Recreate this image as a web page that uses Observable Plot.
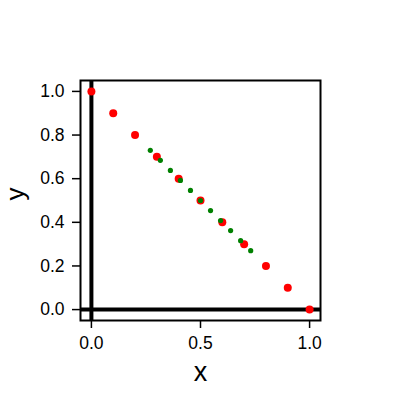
<!DOCTYPE html>
<html>
<head>
<meta charset="utf-8">
<script src="https://cdn.jsdelivr.net/npm/d3@7"></script>
<script src="https://cdn.jsdelivr.net/npm/@observablehq/plot@0.6"></script>
<style>
  html, body { margin: 0; padding: 0; background: white; }
</style>
</head>
<body>
<div id="chart"></div>
<script>
const redX = [0.0, 0.1, 0.2, 0.3, 0.4, 0.5, 0.6, 0.7, 0.8, 0.9, 1.0];
const redY = [1.0, 0.9, 0.8, 0.7, 0.6, 0.5, 0.4, 0.3, 0.2, 0.1, 0.0];
const greenX = [0.27, 0.316, 0.362, 0.408, 0.454, 0.5, 0.546, 0.592, 0.638, 0.684, 0.73];
const greenY = [0.73, 0.684, 0.638, 0.592, 0.546, 0.5, 0.454, 0.408, 0.362, 0.316, 0.27];
const xTicks = [0.0, 0.5, 1.0];
const yTicks = [0.0, 0.2, 0.4, 0.6, 0.8, 1.0];
const xLabel = "x";
const yLabel = "y";

const red = redX.map((x, i) => ({x, y: redY[i]}));
const green = greenX.map((x, i) => ({x, y: greenY[i]}));

const chart = Plot.plot({
  width: 400,
  height: 400,
  marginLeft: 80,
  marginRight: 80,
  marginTop: 80,
  marginBottom: 80,
  style: {fontFamily: "'Liberation Sans', Arial, sans-serif", fontSize: "17.5px", background: "white", color: "black"},
  x: {domain: [-0.05, 1.05]},
  y: {domain: [-0.05, 1.05]},
  marks: [
    Plot.ruleX([0], {stroke: "black", strokeWidth: 4}),
    Plot.ruleY([0], {stroke: "black", strokeWidth: 4}),
    Plot.dot(red, {x: "x", y: "y", r: 4, fill: "red"}),
    Plot.dot(green, {x: "x", y: "y", r: 2.6, fill: "green"}),
    Plot.frame({stroke: "black", strokeWidth: 2}),
    Plot.axisX({ticks: xTicks, tickFormat: d3.format(".1f"), tickSize: 8, tickPadding: 8, strokeWidth: 1.5, label: null, fontSize: 17.5}),
    Plot.axisY({ticks: yTicks, tickFormat: d3.format(".1f"), tickSize: 8, tickPadding: 8, strokeWidth: 1.5, label: null, fontSize: 17.5}),
    Plot.text([xLabel], {text: d => d, frameAnchor: "bottom", dy: 60, fontSize: 27, fill: "black"}),
    Plot.text([yLabel], {text: d => d, frameAnchor: "left", dx: -65, rotate: -90, fontSize: 26, fill: "black"})
  ]
});
document.getElementById("chart").appendChild(chart);
</script>
</body>
</html>
